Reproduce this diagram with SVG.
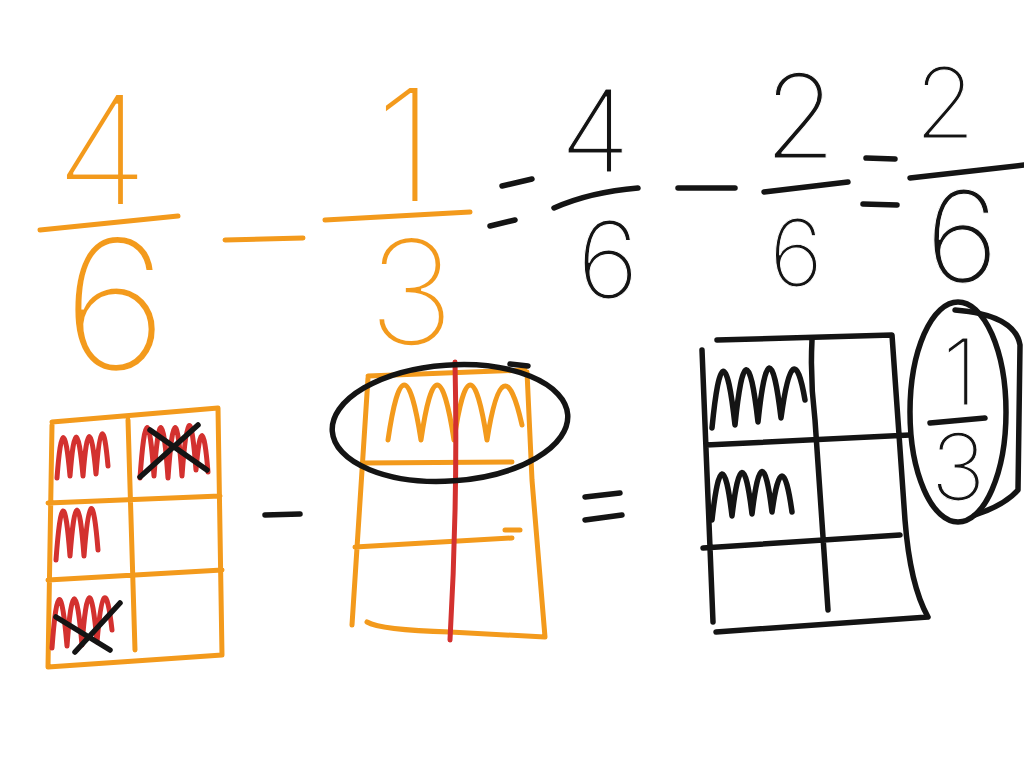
<svg xmlns="http://www.w3.org/2000/svg" width="1024" height="768" viewBox="0 0 1024 768">
<style>
.o{fill:none;stroke:#F39A1C;stroke-width:5;stroke-linecap:round;stroke-linejoin:round}
.k{fill:none;stroke:#141414;stroke-width:5.5;stroke-linecap:round;stroke-linejoin:round}
.r{fill:none;stroke:#D3312F;stroke-width:5;stroke-linecap:round;stroke-linejoin:round}
.to{fill:#F39A1C;stroke:#ffffff;stroke-width:2;font-family:Inter,"Liberation Sans",sans-serif;font-weight:200;text-anchor:middle}
.tk{fill:#141414;stroke:#ffffff;stroke-width:1;font-family:Inter,"Liberation Sans",sans-serif;font-weight:200;text-anchor:middle}
</style>
<rect width="1024" height="768" fill="#ffffff"/>
<g id="equation">
<text class="to"><tspan x="102" y="205" font-size="152">4</tspan><tspan x="115" y="370" font-size="182">6</tspan></text>
<path class="o" d="M40,230 L178,216"/>
<path class="o" d="M225,240 L303,238"/>
<text class="to"><tspan x="405" y="202" font-size="158">1</tspan><tspan x="411" y="345" font-size="146">3</tspan></text>
<path class="o" d="M325,220 L470,212"/>
<path class="k" d="M502,186 L532,179 M490,226 L515,220"/>
<text class="tk"><tspan x="595" y="172" font-size="114">4</tspan><tspan x="608" y="298" font-size="106">6</tspan></text>
<path class="k" d="M554,208 Q590,192 638,188"/>
<path class="k" d="M678,188 L735,188"/>
<text class="tk"><tspan x="800" y="158" font-size="116">2</tspan><tspan x="796" y="286" font-size="92">6</tspan></text>
<path class="k" d="M764,192 L848,182"/>
<path class="k" d="M866,158 L895,159 M863,204 L897,205"/>
<text class="tk"><tspan x="945" y="138" font-size="98">2</tspan><tspan x="962" y="282" font-size="126">6</tspan></text>
<path class="k" d="M910,178 L1024,165"/>
</g>
<g id="grid-left">
<path class="o" d="M52,422 L218,408 L222,655 M48,667 L222,655 M52,425 L48,667 M128,420 L135,650 M48,503 L220,496 M48,580 L222,570"/>
<path class="r" d="M57,478 Q63,398 70,476 Q76,398 83,476 Q89,398 96,474 Q102,398 108,466"/>
<path class="r" d="M140,478 Q147,378 154,476 Q161,378 168,478 Q175,378 182,476 Q189,378 196,470 Q202,400 208,472"/>
<path class="k" d="M140,477 L198,425 M150,430 L207,470"/>
<path class="r" d="M56,560 Q63,464 70,556 Q77,464 84,556 Q91,464 98,550"/>
<path class="r" d="M52,648 Q59,552 67,646 Q74,552 82,645 Q89,552 97,642 Q104,560 112,630"/>
<path class="k" d="M56,617 L110,650 M75,652 L120,603"/>
</g>
<path class="k" d="M265,515 L300,514"/>
<g id="grid-middle">
<path class="o" d="M368,376 L525,370 M368,378 L352,625 M527,372 L532,480 L545,637 M362,463 L512,462 M355,547 L512,538 M505,530 L520,530 M367,622 Q380,630 450,632 L545,637"/>
<path class="o" d="M388,440 Q404,330 421,440 Q437,330 454,440 Q470,330 487,440 Q503,340 522,425"/>
<path class="r" d="M455,362 Q458,500 450,640"/>
<ellipse class="k" cx="450" cy="423" rx="118" ry="58" transform="rotate(-4 450 423)"/>
<path class="k" d="M510,364 L528,366"/>
</g>
<path class="k" d="M585,497 L620,493 M585,520 L622,515"/>
<g id="grid-right">
<path class="k" d="M717,340 L892,335 Q898,420 905,520 Q910,585 928,617 L716,632 M702,350 L713,622 M812,340 Q810,380 815,420 L828,610 M706,445 L910,435 M703,548 L900,535"/>
<path class="k" d="M712,428 Q723,316 735,425 Q746,316 758,422 Q769,316 781,418 Q793,330 805,400"/>
<path class="k" d="M712,520 Q722,430 732,516 Q742,430 752,514 Q762,430 772,512 Q782,440 792,512"/>
</g>
<g id="circled-third">
<ellipse class="k" cx="958" cy="412" rx="48" ry="110"/>
<path class="k" d="M955,310 Q1015,315 1020,345 L1018,490 Q1005,505 975,515"/>
<text class="tk"><tspan x="960" y="405" font-size="92">1</tspan><tspan x="958" y="500" font-size="92">3</tspan></text>
<path class="k" d="M930,423 L985,418"/>
</g>
</svg>
